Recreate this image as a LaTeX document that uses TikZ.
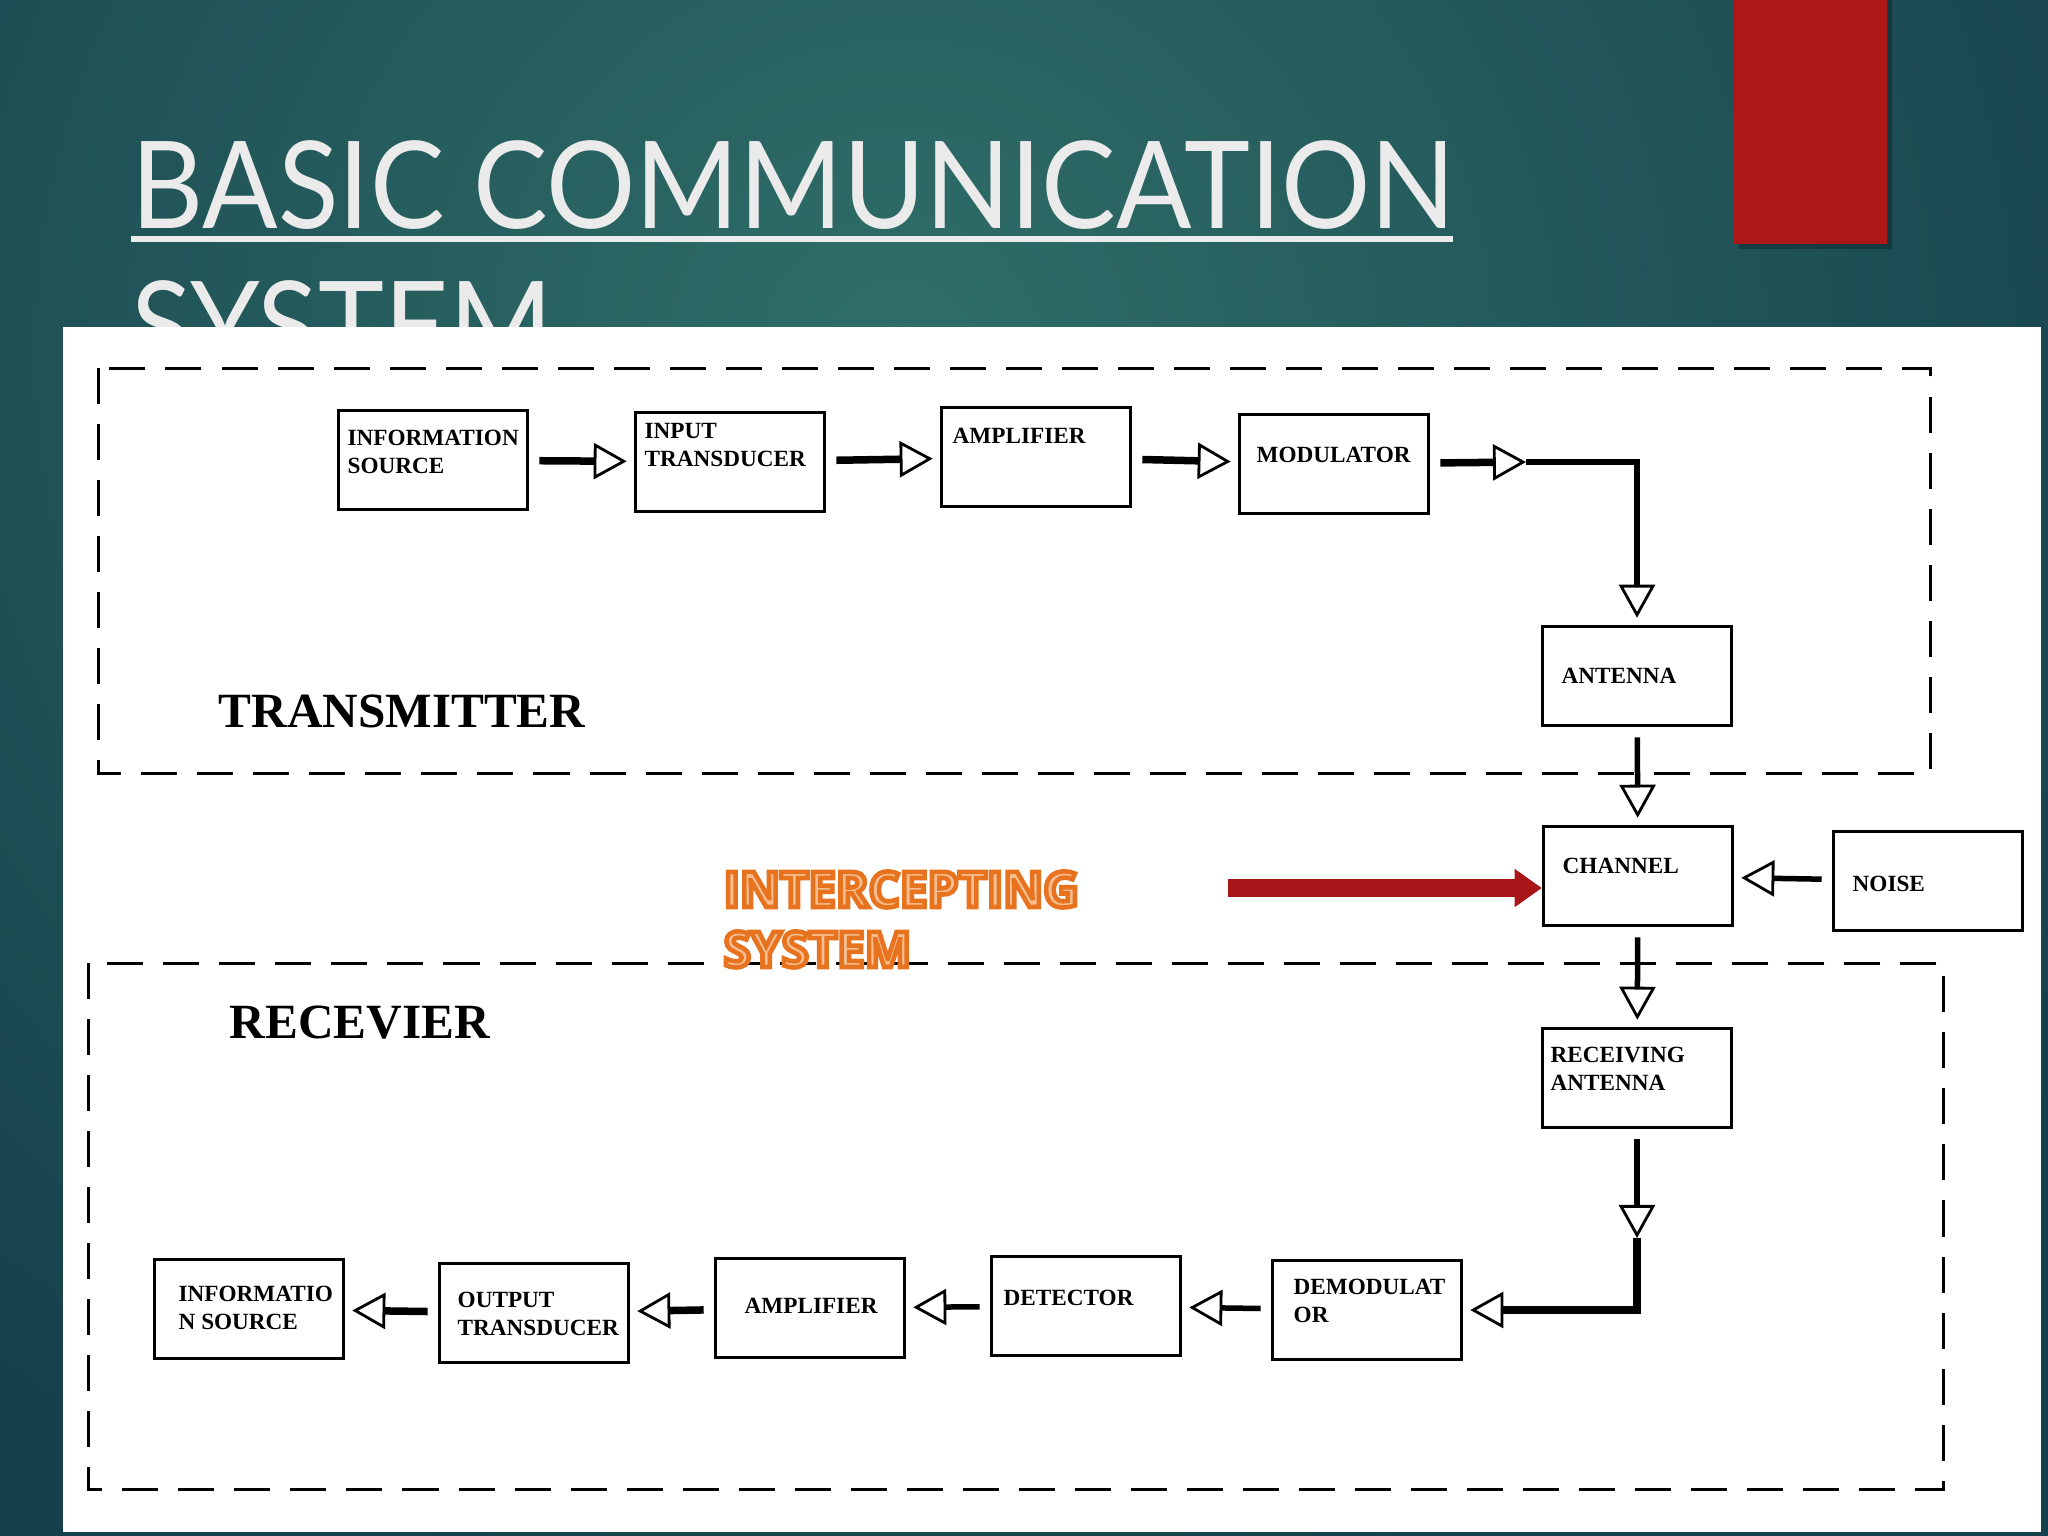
\documentclass[tikz,border=0pt]{standalone}
\usepackage{graphicx}
\usepackage{fontspec}
\setmainfont{Liberation Serif}
\newfontfamily\ttlfont{Lato}
\newfontfamily\icpfont{Open Sans}
\usetikzlibrary{arrows.meta,positioning}

\definecolor{tealD}{HTML}{16404C}
\definecolor{tealL}{HTML}{2F6E68}
\definecolor{barred}{HTML}{AD1717}
\definecolor{ttlgray}{HTML}{EBEBEB}
\definecolor{icpL}{HTML}{F7BE92}
\definecolor{arrred}{HTML}{A8161A}

% outlined text: light fill, orange stroke
\newcommand{\outlinetxt}[1]{%
  \special{pdf:literal direct 2 Tr 1.3 w 0.91 0.45 0.12 RG}#1%
  \special{pdf:literal direct 0 Tr}}

\tikzset{
  blk/.style={draw, fill=white, line width=0.035cm, minimum width=1.89cm,
              minimum height=0.99cm, inner sep=0pt},
  btxt/.style={anchor=west, align=left, inner sep=0pt,
               font=\bfseries\fontsize{6.6}{8}\selectfont},
  grplbl/.style={anchor=base west, inner sep=0pt,
                 font=\bfseries\fontsize{14}{16}\selectfont},
  grp/.style={line width=0.03cm, dash pattern=on 0.36cm off 0.2cm},
  flow/.style={line width=0.075cm, shorten <=0.1cm, shorten >=0.07cm,
               -{Triangle[open, length=0.33cm, width=0.36cm, line width=0.028cm]}},
  flow2/.style={flow, line width=0.055cm},
  redarr/.style={draw=arrred, line width=0.18cm,
                 -{Triangle[length=0.27cm, width=0.38cm, line width=0.01cm]}},
  icpt/.style={anchor=base west, inner sep=0pt, text=icpL,
               font=\icpfont\bfseries\fontsize{14}{16}\selectfont},
  ttl/.style={anchor=base west, inner sep=0pt, text=ttlgray,
              font=\ttlfont\fontsize{34.5}{40}\selectfont}
}

\begin{document}
\begin{tikzpicture}[x=0.01cm, y=-0.01cm]
\useasboundingbox (0,0) rectangle (2048,1536);
% slide background
\begin{scope}
  \clip (0,0) rectangle (2048,1536);
  \shade[inner color=tealL, outer color=tealD] (-500,-1000) rectangle (2300,1700);
\end{scope}
\fill[black, opacity=0.25] (1739,0) rectangle (1892,249);
\fill[barred] (1734,0) rectangle (1887,244);
\node[ttl] (ttl) at (131,228) {\scalebox{0.92}[1]{BASIC COMMUNICATION}};
\node[ttl] (ttl2) at (131,368) {\scalebox{0.92}[1]{SYSTEM}};
\draw[ttlgray, line width=0.06cm] (131,239) -- (1453,239);
\fill[white] (63,327) rectangle (2041,1532);

% frames
\draw[grp] (98,368) rectangle (1930,773);
\draw[grp] (88,963) rectangle (1943,1489);
\node[grplbl] (txlbl) at (218,727) {TRANSMITTER};
\node[grplbl] (rxlbl) at (229,1038) {RECEVIER};

% blocks
\node[blk] (isrc) at (433,460) {};
\node[blk] (itr) at (730,462) {};
\node[blk] (amp1) at (1036,457) {};
\node[blk] (mod) at (1334,464) {};
\node[blk] (ant) at (1637,676) {};
\node[blk] (chan) at (1638,876) {};
\node[blk] (noise) at (1928,881) {};
\node[blk] (rant) at (1637,1078) {};
\node[blk] (demod) at (1367,1310) {};
\node[blk] (det) at (1086,1306) {};
\node[blk] (amp2) at (810,1308) {};
\node[blk] (otr) at (534,1313) {};
\node[blk] (isnk) at (249,1309) {};

\node[btxt] (isrc-t) at (347,452) {INFORMATION\\SOURCE};
\node[btxt] (itr-t) at (644,445) {INPUT\\TRANSDUCER};
\node[btxt] (amp1-t) at (952,436) {AMPLIFIER};
\node[btxt] (mod-t) at (1256,455) {MODULATOR};
\node[btxt] (ant-t) at (1561,676) {ANTENNA};
\node[btxt] (chan-t) at (1562,866) {CHANNEL};
\node[btxt] (noise-t) at (1852,884) {NOISE};
\node[btxt] (rant-t) at (1550,1069) {RECEIVING\\ANTENNA};
\node[btxt] (demod-t) at (1293,1301) {DEMODULAT\\OR};
\node[btxt] (det-t) at (1003,1298) {DETECTOR};
\node[btxt] (amp2-t) at (744,1306) {AMPLIFIER};
\node[btxt] (otr-t) at (457,1314) {OUTPUT\\TRANSDUCER};
\node[btxt] (isnk-t) at (178,1308) {INFORMATIO\\N SOURCE};

% connectors
\coordinate (mchev) at (1526,462);
\coordinate (rchev) at (1637,1238);
\draw[flow] (isrc) -- (itr);
\draw[flow] (itr) -- (amp1);
\draw[flow] (amp1) -- (mod);
\draw[flow, shorten >=0pt] (mod) -- (mchev);
\draw[flow2, shorten <=0pt] (mchev) -| (ant.north);
\draw[flow2] (ant) -- (chan);
\draw[flow2] (noise) -- (chan);
\draw[flow2] (chan) -- (rant);
\draw[flow2, shorten >=0pt] (rant) -- (rchev);
\draw[flow, shorten <=0pt] (rchev) |- (demod.east);
\draw[flow2] (demod) -- (det);
\draw[flow2] (det) -- (amp2);
\draw[flow] (amp2) -- (otr);
\draw[flow] (otr) -- (isnk);

% intercepting system
\node[icpt] (icpt1) at (723,907) {\outlinetxt{INTERCEPTING}};
\node[icpt] (icpt2) at (723,967) {\outlinetxt{SYSTEM}};
\coordinate (icpt-s) at (1228,888);
\draw[redarr] (icpt-s) -- (chan.west |- icpt-s);
\end{tikzpicture}
\end{document}
